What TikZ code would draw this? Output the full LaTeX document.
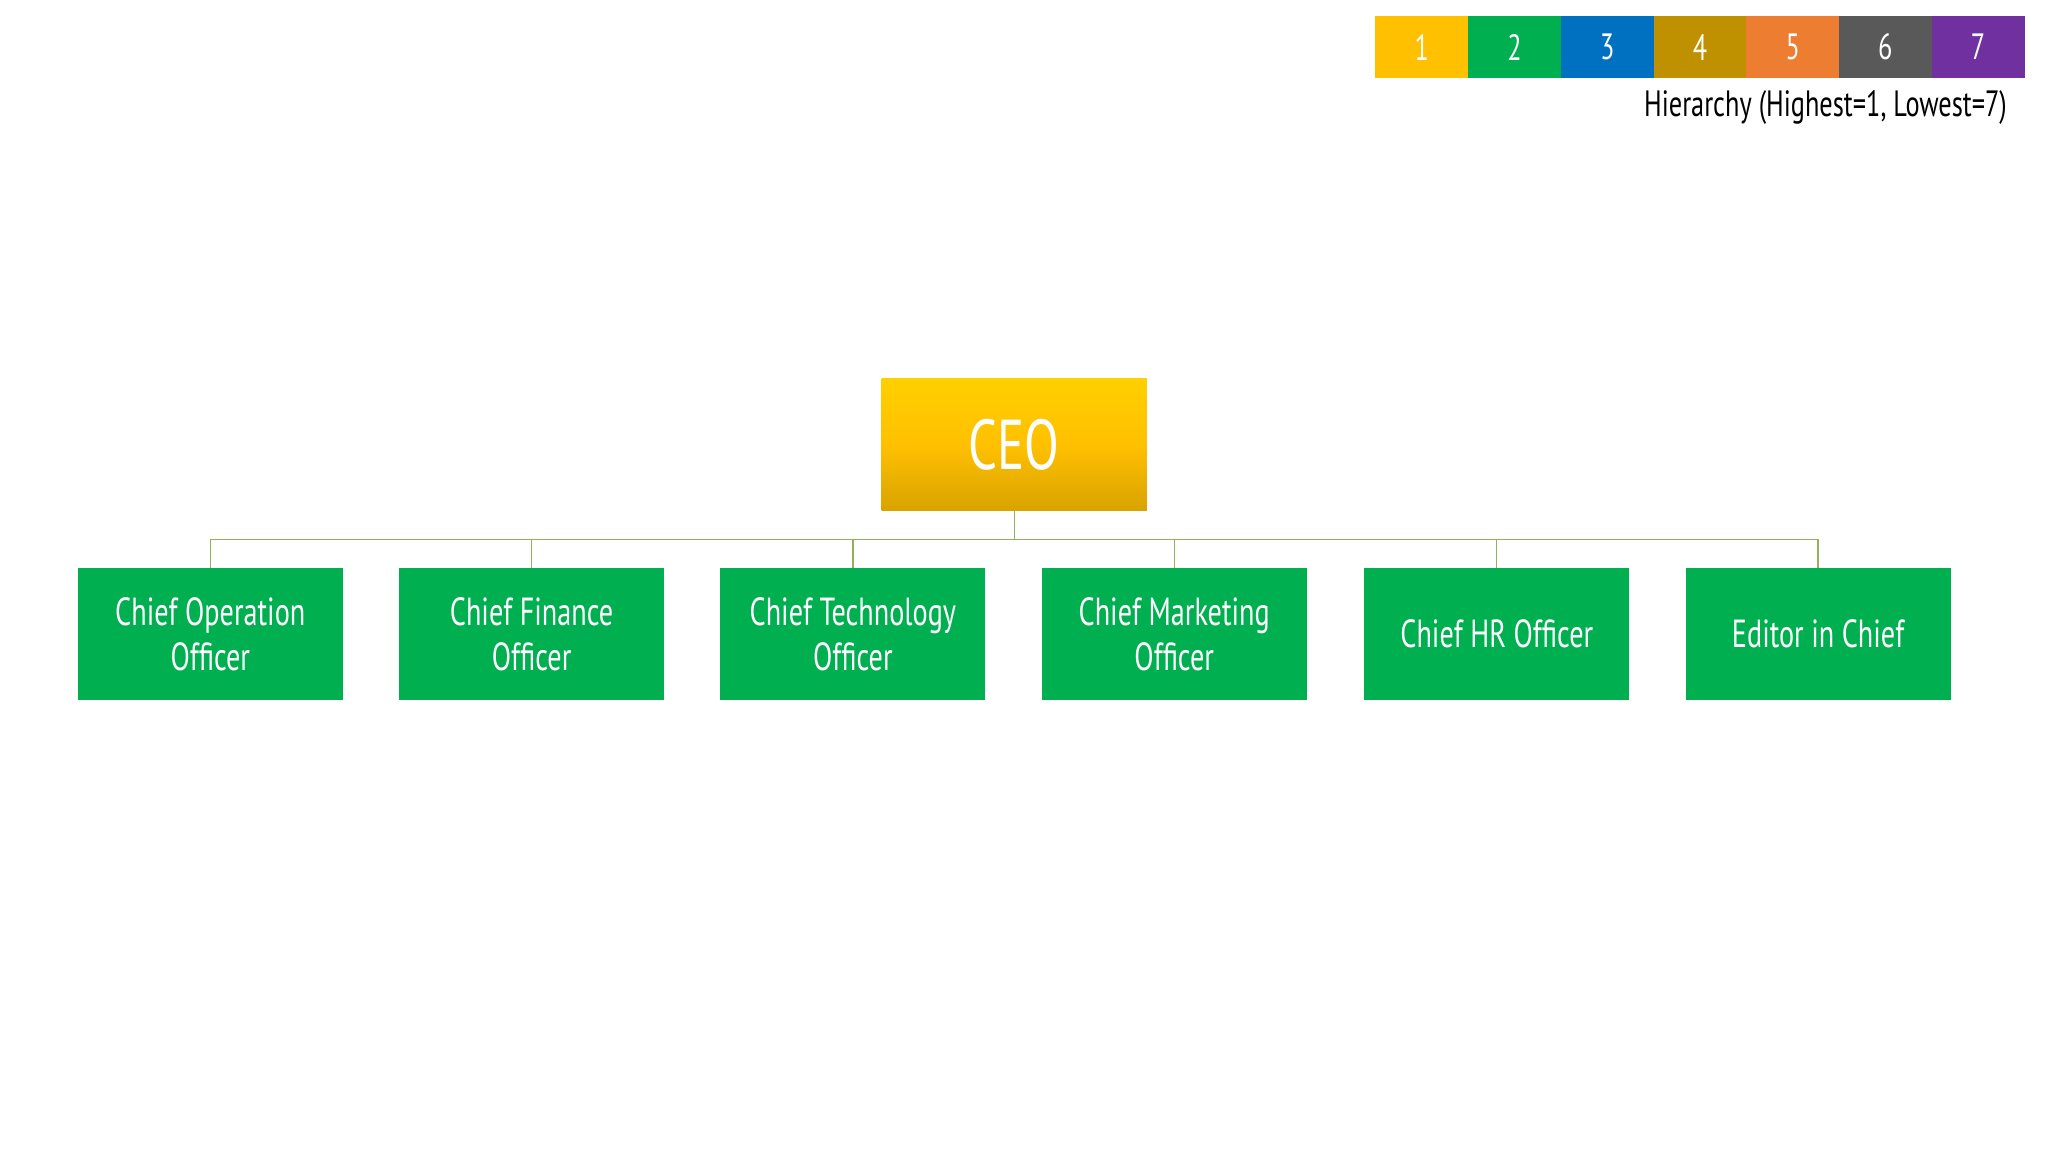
\documentclass[tikz,border=0pt]{standalone}
\usepackage{fontspec}
\setmainfont[FakeStretch=0.72]{PT Sans}
\usetikzlibrary{positioning}
\definecolor{gr}{HTML}{00B050}
\definecolor{yl}{HTML}{FFC000}
\definecolor{ln}{HTML}{8FB35A}
\tikzset{
 card/.style={fill=gr,minimum width=203pt,minimum height=101pt,inner sep=0pt,text=white,align=center,font=\fontsize{30}{34}\selectfont},
 leg/.style={minimum width=71pt,minimum height=48pt,inner sep=0pt,text=white,font=\fontsize{28}{30}\selectfont},
 conn/.style={draw=ln,line width=1pt}
}
\begin{document}
\begin{tikzpicture}[x=1pt,y=-1pt]
\useasboundingbox (0,0) rectangle (1568,882);
\foreach \c/\n [count=\i] in {FFC000/1,00B050/2,0070C0/3,BF9000/4,ED7D31/5,595959/6,7030A0/7}{
 \definecolor{tmp}{HTML}{\c}
 \node[leg,fill=tmp] (l\i) at ({1053+71*(\i-1)+35.5},36) {\n};
}
\node[anchor=east,font=\fontsize{28}{30}\selectfont] (h) at (1540,82) {Hierarchy (Highest=1, Lowest=7)};
\node[inner sep=0pt,minimum width=203pt,minimum height=101pt,top color=yl!75!yellow,bottom color=yl!85!black,middle color=yl,text=white,font=\fontsize{54}{56}\selectfont] (ceo) at (776.5,340.5) {CEO};
\node[card] (c1) at (161,485.5) {Chief Operation\\Officer};
\node[card] (c2) at (407,485.5) {Chief Finance\\Officer};
\node[card] (c3) at (653,485.5) {Chief Technology\\Officer};
\node[card] (c4) at (899,485.5) {Chief Marketing\\Officer};
\node[card] (c5) at (1146,485.5) {Chief HR Officer};
\node[card] (c6) at (1392,485.5) {Editor in Chief};
\coordinate (hub) at (776.5,413);
\draw[conn] (ceo.south) -- (hub);
\foreach \i in {1,...,6}{\draw[conn] (hub) -| (c\i.north);}
\end{tikzpicture}
\end{document}
